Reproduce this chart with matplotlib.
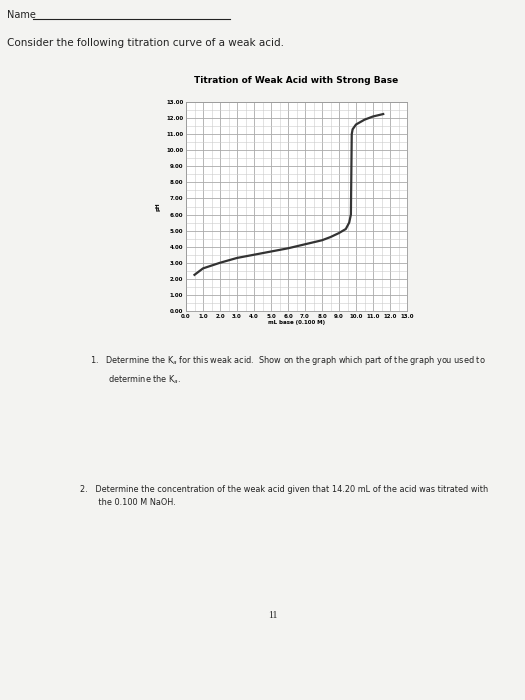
import matplotlib
matplotlib.use("Agg")
import matplotlib.pyplot as plt
import numpy as np

ml_base = [0.5, 1.0, 2.0, 3.0, 4.0, 5.0, 6.0, 7.0, 8.0, 8.5, 9.0, 9.4, 9.6, 9.7, 9.72, 9.75, 9.8, 10.0, 10.5, 11.0, 11.6]
ph = [2.25, 2.65, 3.0, 3.3, 3.5, 3.7, 3.9, 4.15, 4.4, 4.6, 4.85, 5.1, 5.5, 6.0, 8.0, 11.0, 11.3, 11.6, 11.9, 12.1, 12.25]
x_ticks = [0.0, 1.0, 2.0, 3.0, 4.0, 5.0, 6.0, 7.0, 8.0, 9.0, 10.0, 11.0, 12.0, 13.0]
y_ticks = list(range(0, 14))

fig = plt.figure(figsize=(5.25, 7), dpi=100)
fig.patch.set_facecolor("#f3f3f1")
tc = "#222222"
fig.text(7/525, 1-15/700, "Name", fontsize=7, color=tc, va="center")
fig.add_artist(plt.Line2D([33/525, 230/525], [1-19/700, 1-19/700], color=tc, lw=0.8))
fig.text(7/525, 1-43/700, "Consider the following titration curve of a weak acid.", fontsize=7.5, color=tc, va="center")
fig.text(90/525, 1-370/700, "1.   Determine the K$_a$ for this weak acid.  Show on the graph which part of the graph you used to\n       determine the K$_a$.", fontsize=5.9, color=tc, va="center", linespacing=1.7)
fig.text(80/525, 1-496/700, "2.   Determine the concentration of the weak acid given that 14.20 mL of the acid was titrated with\n       the 0.100 M NaOH.", fontsize=5.9, color=tc, va="center", linespacing=1.7)
fig.text(273/525, 1-615/700, "11", fontsize=7, color=tc, ha="center", va="center", family="Liberation Serif")

ax = fig.add_axes([186/525, 1-311/700, 221/525, 209/700])
ax.set_facecolor("white")
ax.plot(ml_base, ph, color="#333333", lw=1.6)
ax.set_xlim(0, 13)
ax.set_ylim(0, 13)
ax.set_xticks(x_ticks)
ax.set_xticklabels([f"{v:.1f}" for v in x_ticks], fontsize=4, fontweight="bold")
ax.set_yticks(y_ticks)
ax.set_yticklabels([f"{v:.2f}" for v in y_ticks], fontsize=4, fontweight="bold")
ax.set_xticks(np.arange(0, 13.01, 0.5), minor=True)
ax.set_yticks(np.arange(0, 13.01, 0.5), minor=True)
ax.grid(True, which="major", color="#aaaaaa", lw=0.6)
ax.grid(True, which="minor", color="#cccccc", lw=0.4)
ax.tick_params(which="both", length=0, pad=2)
for s in ax.spines.values():
    s.set_color("#999999"); s.set_linewidth(0.6)
ax.set_xlabel("mL base (0.100 M)", fontsize=4, fontweight="bold", labelpad=1)
ax.set_ylabel("pH", fontsize=4, fontweight="bold", labelpad=4)
ax.set_title("Titration of Weak Acid with Strong Base", fontsize=6.5, fontweight="bold", pad=14)
fig.savefig("out.png", dpi=100, facecolor=fig.get_facecolor())
